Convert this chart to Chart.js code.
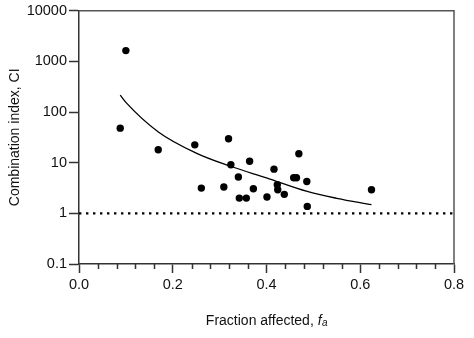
<!DOCTYPE html>
<html>
<head>
<meta charset="utf-8">
<script src="https://cdn.jsdelivr.net/npm/chart.js@4/dist/chart.umd.min.js"></script>
<style>
html,body{margin:0;padding:0;background:#fff;}
#wrap{width:474px;height:338px;position:relative;}
</style>
</head>
<body>
<div id="wrap"><canvas id="c" width="474" height="338"></canvas></div>
<script>
// Observed data points (fraction affected, combination index)
const pointFa = [0.088, 0.100, 0.169, 0.247, 0.261, 0.309, 0.319, 0.324, 0.340, 0.342, 0.357, 0.364, 0.372, 0.401, 0.416, 0.423, 0.424, 0.438, 0.458, 0.464, 0.469, 0.486, 0.487, 0.624];
const pointCI = [48, 1630, 18, 22.5, 3.15, 3.3, 29.6, 9.1, 5.2, 2.0, 2.0, 10.7, 3.06, 2.1, 7.45, 3.67, 2.93, 2.37, 5.05, 5.05, 15.0, 4.26, 1.37, 2.93];
// Fitted curve
const curveFa = [0.088, 0.100, 0.170, 0.250, 0.320, 0.400, 0.487, 0.550, 0.624];
const curveCI = [215, 155, 40, 15.5, 8.7, 5.0, 2.7, 1.98, 1.48];
// Additivity reference line CI = 1
const refFa = [0.0, 0.8];
const refCI = [1, 1];
// Tick labels
const yTicks = [0.1, 1, 10, 100, 1000, 10000];
const yTickLabels = ['0.1', '1', '10', '100', '1000', '10000'];
const xMajorTicks = [0.0, 0.2, 0.4, 0.6, 0.8];
const xTickLabels = ['0.0', '0.2', '0.4', '0.6', '0.8'];
const xMinorStep = 0.04;
const xTitle = 'Fraction affected, ';
const xTitleItalic = 'f';
const xTitleSub = 'a';
const yTitle = 'Combination index, CI';

const FONT = "Arial, 'Liberation Sans', Helvetica, sans-serif";
const AXIS = '#333333';

const framePlugin = {
  id: 'frame',
  afterDraw(chart) {
    const {ctx, chartArea: a, scales} = chart;
    ctx.save();
    // top and right border
    ctx.strokeStyle = '#555555';
    ctx.lineWidth = 1.5;
    ctx.beginPath();
    ctx.moveTo(a.left, a.top);
    ctx.lineTo(a.right, a.top);
    ctx.lineTo(a.right, a.bottom);
    ctx.stroke();
    // minor x ticks
    const xs = scales.x;
    ctx.strokeStyle = AXIS;
    ctx.lineWidth = 1.5;
    ctx.beginPath();
    for (let i = 0; i <= Math.round(0.8 / xMinorStep); i++) {
      const v = i * xMinorStep;
      if (Math.abs(v / 0.2 - Math.round(v / 0.2)) < 1e-6) continue;
      const px = Math.round(xs.getPixelForValue(v)) + 0.5;
      ctx.moveTo(px, a.bottom);
      ctx.lineTo(px, a.bottom + 5);
    }
    ctx.stroke();
    // x title with italic subscript
    ctx.fillStyle = '#111';
    ctx.textBaseline = 'alphabetic';
    const f1 = '14px ' + FONT, f2 = 'italic 14px ' + FONT, f3 = 'italic 10px ' + FONT;
    ctx.font = f1; const w1 = ctx.measureText(xTitle).width;
    ctx.font = f2; const w2 = ctx.measureText(xTitleItalic).width;
    ctx.font = f3; const w3 = ctx.measureText(xTitleSub).width;
    const cx = (a.left + a.right) / 2;
    let x0 = cx - (w1 + w2 + w3) / 2;
    const by = 325;
    ctx.font = f1; ctx.fillText(xTitle, x0, by);
    ctx.font = f2; ctx.fillText(xTitleItalic, x0 + w1, by);
    ctx.font = f3; ctx.fillText(xTitleSub, x0 + w1 + w2 + 0.5, by + 1);
    ctx.restore();
  }
};

new Chart(document.getElementById('c'), {
  type: 'scatter',
  data: {
    datasets: [
      {
        label: 'Reference',
        data: refFa.map((x, i) => ({x, y: refCI[i]})),
        showLine: true,
        borderColor: '#000',
        borderWidth: 2.4,
        borderDash: [2.4, 4.6],
        pointRadius: 0,
        fill: false,
        order: 3
      },
      {
        label: 'Fit',
        data: curveFa.map((x, i) => ({x, y: curveCI[i]})),
        showLine: true,
        borderColor: '#000',
        borderWidth: 1.3,
        pointRadius: 0,
        cubicInterpolationMode: 'monotone',
        fill: false,
        order: 2
      },
      {
        label: 'Data',
        data: pointFa.map((x, i) => ({x, y: pointCI[i]})),
        backgroundColor: '#000',
        borderColor: '#000',
        pointRadius: 3.7,
        borderWidth: 0,
        order: 1
      }
    ]
  },
  options: {
    responsive: false,
    animation: false,
    devicePixelRatio: 1,
    layout: {padding: {left: 7, right: 20, top: 10, bottom: 0}},
    plugins: {legend: {display: false}, tooltip: {enabled: false}, title: {display: false}},
    scales: {
      x: {
        type: 'linear',
        min: 0, max: 0.8,
        afterBuildTicks(s) { s.ticks = xMajorTicks.map(v => ({value: v})); },
        afterFit(s) { s.height = 74; },
        ticks: {
          callback: (v) => { const i = xMajorTicks.findIndex(t => Math.abs(t - v) < 1e-9); return i >= 0 ? xTickLabels[i] : ''; },
          color: '#111', font: {family: FONT, size: 14.5}, padding: 3, maxRotation: 0, autoSkip: false
        },
        grid: {display: true, drawOnChartArea: false, drawTicks: true, tickLength: 9, tickColor: AXIS, tickWidth: 1.5},
        border: {display: true, color: AXIS, width: 1.5},
        title: {display: false}
      },
      y: {
        type: 'logarithmic',
        min: 0.1, max: 10000,
        afterBuildTicks(s) { s.ticks = yTicks.map(v => ({value: v})); },
        afterFit(s) { s.width = 72; },
        ticks: {
          callback: (v) => { const i = yTicks.findIndex(t => Math.abs(t - v) / t < 1e-6); return i >= 0 ? yTickLabels[i] : ''; },
          color: '#111', font: {family: FONT, size: 14.5}, padding: 2, autoSkip: false
        },
        grid: {display: true, drawOnChartArea: false, drawTicks: true, tickLength: 10, tickColor: AXIS, tickWidth: 1.5},
        border: {display: true, color: AXIS, width: 1.5},
        title: {display: true, text: yTitle, color: '#111', font: {family: FONT, size: 14}, padding: {top: 0, bottom: 4}}
      }
    }
  },
  plugins: [framePlugin]
});
</script>
</body>
</html>
